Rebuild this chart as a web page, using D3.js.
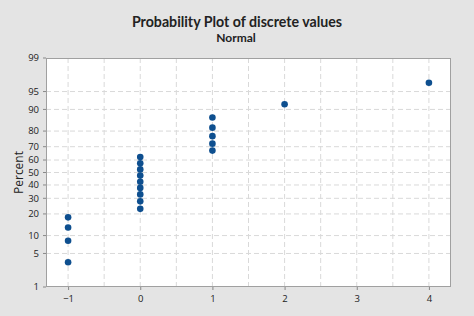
<!DOCTYPE html>
<html>
<head>
<meta charset="utf-8">
<script src="https://cdn.jsdelivr.net/npm/d3@7"></script>
<style>
  body { margin: 0; background: #e4e4e4; }
  text { font-family: "Open Sans", "DejaVu Sans", sans-serif; fill: #222; }
</style>
</head>
<body>
<svg id="chart" width="474" height="316"></svg>
<script>
var values   = [-1, -1, -1, -1, 0, 0, 0, 0, 0, 0, 0, 0, 0, 1, 1, 1, 1, 1, 2, 4];
var percents = [3.4, 8.3, 13.2, 18.1, 23.0, 27.9, 32.8, 37.7, 42.6, 47.5, 52.5, 57.4, 62.3, 67.2, 72.1, 77.0, 81.9, 86.8, 91.7, 96.6];
var yTicks = [1, 5, 10, 20, 30, 40, 50, 60, 70, 80, 90, 95, 99];
var xTicks = [-1, 0, 1, 2, 3, 4];
var xGrid = [-1, -0.5, 0, 0.5, 1, 1.5, 2, 2.5, 3, 3.5, 4];

var svg = d3.select("#chart");
var width = 474, height = 316;
var margin = {top: 58, right: 23, bottom: 29, left: 46};
var plotWidth = width - margin.left - margin.right;
var plotHeight = height - margin.top - margin.bottom;

// inverse normal CDF (Acklam)
function probit(p) {
  var a = [-3.969683028665376e+01, 2.209460984245205e+02, -2.759285104469687e+02, 1.383577518672690e+02, -3.066479806614716e+01, 2.506628277459239e+00];
  var b = [-5.447609879822406e+01, 1.615858368580409e+02, -1.556989798598866e+02, 6.680131188771972e+01, -1.328068155288572e+01];
  var c = [-7.784894002430293e-03, -3.223964580411365e-01, -2.400758277161838e+00, -2.549732539343734e+00, 4.374664141464968e+00, 2.938163982698783e+00];
  var d = [7.784695709041462e-03, 3.224671290700398e-01, 2.445134137142996e+00, 3.754408661907416e+00];
  var q, r;
  if (p < 0.02425) {
    q = Math.sqrt(-2 * Math.log(p));
    return (((((c[0]*q+c[1])*q+c[2])*q+c[3])*q+c[4])*q+c[5]) / ((((d[0]*q+d[1])*q+d[2])*q+d[3])*q+1);
  } else if (p > 1 - 0.02425) {
    q = Math.sqrt(-2 * Math.log(1 - p));
    return -(((((c[0]*q+c[1])*q+c[2])*q+c[3])*q+c[4])*q+c[5]) / ((((d[0]*q+d[1])*q+d[2])*q+d[3])*q+1);
  }
  q = p - 0.5; r = q * q;
  return (((((a[0]*r+a[1])*r+a[2])*r+a[3])*r+a[4])*r+a[5])*q / (((((b[0]*r+b[1])*r+b[2])*r+b[3])*r+b[4])*r+1);
}

var xScale = d3.scaleLinear()
  .domain([-1.306, 4.306])
  .range([margin.left, margin.left + plotWidth]);

var zScale = d3.scaleLinear()
  .domain([probit(0.01), probit(0.99)])
  .range([margin.top + plotHeight, margin.top]);
var yScale = function(p) { return zScale(probit(p / 100)); };

// plot background
svg.append("rect")
  .attr("x", margin.left).attr("y", margin.top)
  .attr("width", plotWidth).attr("height", plotHeight)
  .attr("fill", "#fff");

// grid
svg.append("g").selectAll("line")
  .data(yTicks.filter(d => d !== 1 && d !== 99))
  .enter().append("line")
  .attr("x1", margin.left).attr("x2", margin.left + plotWidth)
  .attr("y1", d => yScale(d)).attr("y2", d => yScale(d))
  .attr("stroke", "#d9d9d9").attr("stroke-dasharray", "5,3");

svg.append("g").selectAll("line")
  .data(xGrid)
  .enter().append("line")
  .attr("x1", d => xScale(d)).attr("x2", d => xScale(d))
  .attr("y1", margin.top).attr("y2", margin.top + plotHeight)
  .attr("stroke", "#d9d9d9").attr("stroke-dasharray", "5,3");

// frame
svg.append("rect")
  .attr("x", margin.left + 0.5).attr("y", margin.top + 0.5)
  .attr("width", plotWidth - 1).attr("height", plotHeight - 1)
  .attr("fill", "none").attr("stroke", "#a0a0a0");

// axes
var yAxis = svg.append("g")
  .attr("transform", `translate(${margin.left}, 0)`);
yAxis.selectAll("line").data(yTicks).enter().append("line")
  .attr("x1", -3).attr("x2", 0)
  .attr("y1", d => yScale(d)).attr("y2", d => yScale(d))
  .attr("stroke", "#888");
yAxis.selectAll("text").data(yTicks).enter().append("text")
  .attr("x", -7).attr("y", d => yScale(d))
  .attr("dy", "0.35em")
  .attr("text-anchor", "end")
  .style("font-size", "9.5px")
  .text(d => d);

var xAxis = d3.axisBottom(xScale)
  .tickValues(xTicks)
  .tickFormat(d3.format("d"))
  .tickSize(3)
  .tickSizeOuter(0);
var xg = svg.append("g")
  .attr("transform", `translate(0, ${margin.top + plotHeight})`)
  .call(xAxis);
xg.select(".domain").remove();
xg.selectAll(".tick line").attr("stroke", "#888");
xg.selectAll(".tick text")
  .attr("dy", "0.9em")
  .style("font-size", "9.5px")
  .style("font-family", "'Open Sans', 'DejaVu Sans', sans-serif")
  .attr("fill", "#222");

// points
svg.append("g").selectAll("circle")
  .data(values.map((v, i) => ({x: v, p: percents[i]})))
  .enter().append("circle")
  .attr("cx", d => xScale(d.x))
  .attr("cy", d => yScale(d.p))
  .attr("r", 3.3)
  .attr("fill", "#0e4f8f");

// titles
svg.append("text")
  .attr("x", 237).attr("y", 27)
  .attr("text-anchor", "middle")
  .style("font-family", "Lato, 'Open Sans', sans-serif")
  .style("font-size", "14.2px")
  .style("font-weight", "bold")
  .text("Probability Plot of discrete values");

svg.append("text")
  .attr("x", 236).attr("y", 42)
  .attr("text-anchor", "middle")
  .style("font-family", "Lato, 'Open Sans', sans-serif")
  .style("font-size", "12px")
  .style("font-weight", "bold")
  .text("Normal");

svg.append("text")
  .attr("transform", `translate(23, ${margin.top + plotHeight / 2}) rotate(-90)`)
  .attr("text-anchor", "middle")
  .style("font-size", "12px")
  .text("Percent");
</script>
</body>
</html>
